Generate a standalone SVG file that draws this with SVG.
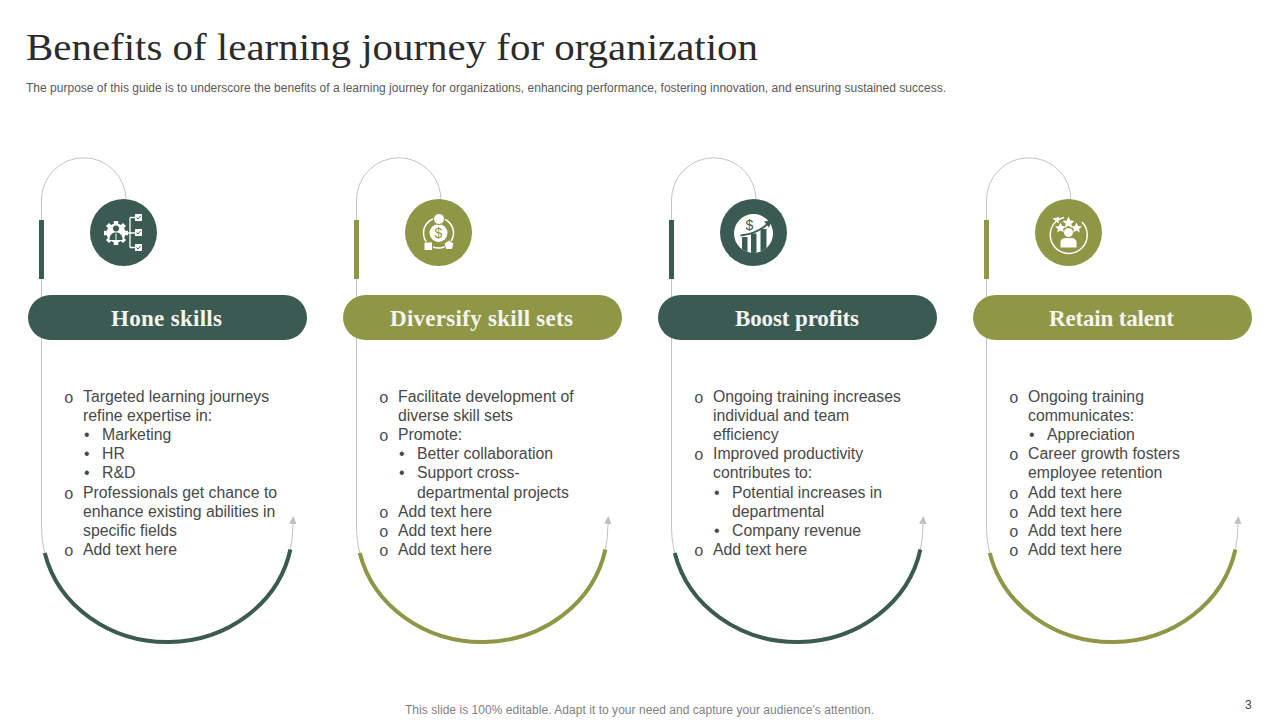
<svg xmlns="http://www.w3.org/2000/svg" width="1280" height="720" viewBox="0 0 1280 720">
<style>
.title{font:38px "Liberation Serif",serif;fill:#2b2b2b}
.sub{font:12px "Liberation Sans",Arial,sans-serif;fill:#595959}
.foot{font:12px "Liberation Sans",Arial,sans-serif;fill:#7f7f7f}
.num{font:12px "Liberation Sans",Arial,sans-serif;fill:#404040}
.head{font:bold 23px "Liberation Serif",serif;fill:#f4f4f0;text-anchor:middle}
.body{font:15.800px "Liberation Sans",Arial,sans-serif;fill:#484848}
.o{font:16px "Liberation Mono",monospace;fill:#484848}
.thin{fill:none;stroke:#c4c4c4;stroke-width:1}
.thick{fill:none;stroke-width:4}
.g{fill:#3b5b52}.v{fill:#8f9747}
.sg{stroke:#3b5b52}.sv{stroke:#8f9747}
.w{fill:#fff}.wl{fill:none;stroke:#fff;stroke-width:1.300}
.d{font:14px "Liberation Sans",sans-serif;text-anchor:middle}
</style>
<defs>
<marker id="arrow" markerWidth="9" markerHeight="8" refX="1" refY="4" orient="auto" markerUnits="userSpaceOnUse"><path d="M0 0L8 3.500L0 7.500Z" fill="#bfbfbf"/></marker>
<clipPath id="disk3"><circle cx="753.500" cy="233.500" r="19.500"/></clipPath>
</defs>
<text class="title" x="26" y="60" textLength="732" lengthAdjust="spacingAndGlyphs">Benefits of learning journey for organization</text>
<text class="sub" x="26" y="92" textLength="920" lengthAdjust="spacing">The purpose of this guide is to underscore the benefits of a learning journey for organizations, enhancing performance, fostering innovation, and ensuring sustained success.</text>

<g id="connectors">
<g id="rail1">
<path class="thin" d="M126 200A42 42 0 0 0 41.500 200V527A125.650 115 0 0 0 292.800 527L293.200 523" marker-end="url(#arrow)"/>
<path class="thick sg" d="M44.750 553A125.650 115 0 0 0 290.370 549.500"/>
</g>
<g id="rail2" transform="translate(315 0)">
<path class="thin" d="M126 200A42 42 0 0 0 41.500 200V527A125.650 115 0 0 0 292.800 527L293.200 523" marker-end="url(#arrow)"/>
<path class="thick sv" d="M44.750 553A125.650 115 0 0 0 290.370 549.500"/>
</g>
<g id="rail3" transform="translate(630 0)">
<path class="thin" d="M126 200A42 42 0 0 0 41.500 200V527A125.650 115 0 0 0 292.800 527L293.200 523" marker-end="url(#arrow)"/>
<path class="thick sg" d="M44.750 553A125.650 115 0 0 0 290.370 549.500"/>
</g>
<g id="rail4" transform="translate(945 0)">
<path class="thin" d="M126 200A42 42 0 0 0 41.500 200V527A125.650 115 0 0 0 292.800 527L293.200 523" marker-end="url(#arrow)"/>
<path class="thick sv" d="M44.750 553A125.650 115 0 0 0 290.370 549.500"/>
</g>
</g>

<g id="node1">
<rect class="g" x="39" y="220" width="5" height="59"/>
<circle class="g" cx="123.500" cy="232.500" r="33.500"/>
<g id="icon1">
<g stroke="#fff" stroke-width="4.500"><path d="M116 221v24M104 233h24M107.500 224.500l17 17M124.500 224.500l-17 17"/></g>
<circle class="w" cx="116" cy="233" r="9.500"/>
<circle class="g" cx="116" cy="228.500" r="3"/>
<path class="g" d="M109.500 240c0-5 2.500-7.500 6.500-7.500s6.500 2.500 6.500 7.500z"/>
<path d="M116 233.500v6.500" stroke="#fff" stroke-width="1"/>
<path class="wl" d="M127 233h8M130 217.500v30M130 217.500h5M130 247.500h5"/>
<rect class="w" x="135" y="214" width="7" height="7"/><rect class="w" x="135" y="229" width="7" height="7"/><rect class="w" x="135" y="244" width="7" height="7"/>
<path d="M136.500 217.500l1.500 1.500 2.500-3M136.500 232.500l1.500 1.500 2.500-3M136.500 247.500l1.500 1.500 2.500-3" fill="none" stroke="#3b5b52" stroke-width="1"/>
</g>
<rect class="g" x="28" y="295" width="279" height="45" rx="22.500"/>
<text class="head" x="166.500" y="326" textLength="111">Hone skills</text>
<g class="body">
<text class="o" x="64" y="403">o</text><text x="83" y="402">Targeted learning journeys</text>
<text x="83" y="421">refine expertise in:</text>
<text x="84" y="440">•</text><text x="102" y="440">Marketing</text>
<text x="84" y="459">•</text><text x="102" y="459">HR</text>
<text x="84" y="478">•</text><text x="102" y="478">R&amp;D</text>
<text class="o" x="64" y="499">o</text><text x="83" y="498">Professionals get chance to</text>
<text x="83" y="517">enhance existing abilities in</text>
<text x="83" y="536">specific fields</text>
<text class="o" x="64" y="556">o</text><text x="83" y="555">Add text here</text>
</g>
</g>

<g id="node2">
<rect class="v" x="354" y="220" width="5" height="59"/>
<circle class="v" cx="438.500" cy="232.500" r="33.500"/>
<g id="icon2">
<circle cx="438.500" cy="233" r="15" fill="none" stroke="#fff" stroke-width="1.500"/>
<circle cx="438.500" cy="233" r="9" fill="#fff"/>
<text class="d v" x="438.500" y="238">$</text>
<circle class="w" cx="439" cy="219" r="5.500" stroke="#8f9747"/>
<rect class="w" x="424" y="242" width="8.500" height="8.500" stroke="#8f9747"/>
<path class="w" d="M449 240l5 3.500-1.800 6h-6.400l-1.800-6z" stroke="#8f9747"/>
</g>
<rect class="v" x="343" y="295" width="279" height="45" rx="22.500"/>
<text class="head" x="481.500" y="326" textLength="183">Diversify skill sets</text>
<g class="body">
<text class="o" x="379" y="403">o</text><text x="398" y="402">Facilitate development of</text>
<text x="398" y="421">diverse skill sets</text>
<text class="o" x="379" y="441">o</text><text x="398" y="440">Promote:</text>
<text x="399" y="459">•</text><text x="417" y="459">Better collaboration</text>
<text x="399" y="478">•</text><text x="417" y="478">Support cross-</text>
<text x="417" y="498">departmental projects</text>
<text class="o" x="379" y="518">o</text><text x="398" y="517">Add text here</text>
<text class="o" x="379" y="537">o</text><text x="398" y="536">Add text here</text>
<text class="o" x="379" y="556">o</text><text x="398" y="555">Add text here</text>
</g>
</g>

<g id="node3">
<rect class="g" x="669" y="220" width="5" height="59"/>
<circle class="g" cx="753.500" cy="232.500" r="33.500"/>
<g id="icon3">
<circle class="w" cx="753.500" cy="233.500" r="19.500"/>
<g clip-path="url(#disk3)"><path class="g" d="M742 237h5.500v20h-5.500zM751 233.500h5.500v24h-5.500zM760.500 229h6v28h-6z"/></g>
<path d="M740.500 235.500c11-1 20-5 27-11.500" fill="none" stroke="#3b5b52" stroke-width="1.800"/>
<path class="g" d="M764 221.500l7.500-1-2.500 7z"/>
<text class="d g" x="749.500" y="230">$</text>
</g>
<rect class="g" x="658" y="295" width="279" height="45" rx="22.500"/>
<text class="head" x="797" y="326" textLength="124">Boost profits</text>
<g class="body">
<text class="o" x="694" y="403">o</text><text x="713" y="402">Ongoing training increases</text>
<text x="713" y="421">individual and team</text>
<text x="713" y="440">efficiency</text>
<text class="o" x="694" y="460">o</text><text x="713" y="459">Improved productivity</text>
<text x="713" y="478">contributes to:</text>
<text x="714" y="498">•</text><text x="732" y="498">Potential increases in</text>
<text x="732" y="517">departmental</text>
<text x="714" y="536">•</text><text x="732" y="536">Company revenue</text>
<text class="o" x="694" y="556">o</text><text x="713" y="555">Add text here</text>
</g>
</g>

<g id="node4">
<rect class="v" x="984" y="220" width="5" height="59"/>
<circle class="v" cx="1068.500" cy="232.500" r="33.500"/>
<g id="icon4">
<path d="M1082 222A18.500 18.500 0 1 1 1056 221.500M1056 221.500A18.500 18.500 0 0 1 1064 217.500" fill="none" stroke="#fff" stroke-width="1.500"/>
<path class="w" d="M1052.500 218.500l6.500-1.500-.5 6.500z"/>
<path class="w" d="M1068.500 216.500l1.800 4 4.300.4-3.300 2.900 1 4.200-3.800-2.300-3.800 2.300 1-4.200-3.300-2.900 4.300-.4z"/>
<path class="w" d="M1060.500 222.500l1.600 3.500 3.800.4-2.900 2.500.9 3.700-3.400-2-3.400 2 .9-3.700-2.900-2.500 3.800-.4z"/>
<path class="w" d="M1076.500 222.500l1.600 3.500 3.800.4-2.900 2.500.9 3.700-3.400-2-3.400 2 .9-3.700-2.900-2.500 3.800-.4z"/>
<circle class="w" cx="1068.500" cy="232.500" r="4.500"/>
<path class="w" d="M1060.500 247.500v-5c0-3 2-4.500 5-4.500h6c3 0 5 1.500 5 4.500v5z"/>
</g>
<rect class="v" x="973" y="295" width="279" height="45" rx="22.500"/>
<text class="head" x="1111.500" y="326" textLength="125">Retain talent</text>
<g class="body">
<text class="o" x="1009" y="403">o</text><text x="1028" y="402">Ongoing training</text>
<text x="1028" y="421">communicates:</text>
<text x="1029" y="440">•</text><text x="1047" y="440">Appreciation</text>
<text class="o" x="1009" y="460">o</text><text x="1028" y="459">Career growth fosters</text>
<text x="1028" y="478">employee retention</text>
<text class="o" x="1009" y="499">o</text><text x="1028" y="498">Add text here</text>
<text class="o" x="1009" y="518">o</text><text x="1028" y="517">Add text here</text>
<text class="o" x="1009" y="537">o</text><text x="1028" y="536">Add text here</text>
<text class="o" x="1009" y="556">o</text><text x="1028" y="555">Add text here</text>
</g>
</g>

<text class="foot" x="405" y="714" textLength="469" lengthAdjust="spacing">This slide is 100% editable. Adapt it to your need and capture your audience’s attention.</text>
<text class="num" x="1245" y="709">3</text>
</svg>
